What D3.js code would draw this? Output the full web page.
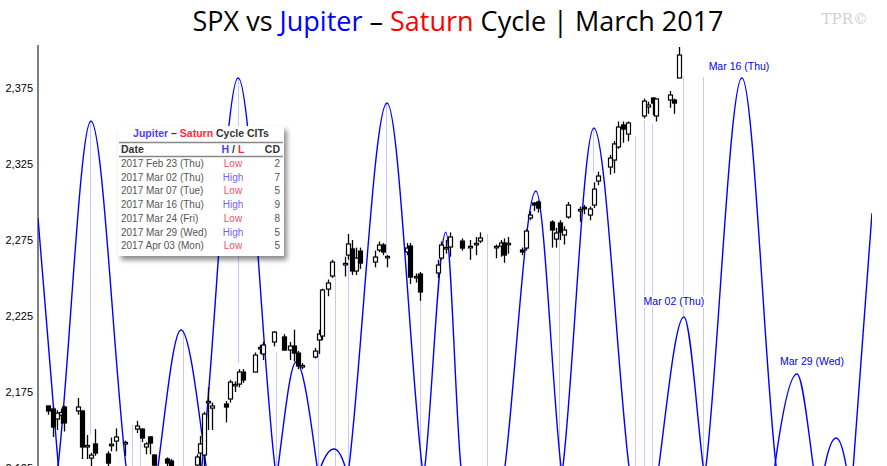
<!DOCTYPE html>
<html><head><meta charset="utf-8">
<script src="https://cdn.jsdelivr.net/npm/d3@7"></script>
<style>body{margin:0;background:#fff}svg{display:block}</style></head>
<body><svg id="c" width="887" height="466"></svg>
<script>
// Candles: [slot, open, high, low, close]
const candles = [
[2.4,2165.8,2166,2160,2162.5],[3.6,2163.8,2165,2145.4,2151.9],[4.6,2157.2,2163,2150,2161.1],[5.5,2159.8,2164,2154,2161.5],[6.2,2165.1,2166,2149,2154.6],
[9.6,2162.5,2171,2160,2165.1],[10.6,2162.5,2163,2130.9,2138.8],[11.8,2139.4,2146.7,2130.9,2139.8],[12.7,2131.5,2135,2126,2133.5],[13.7,2140.8,2150.6,2133,2134.8],
[16.8,2134.2,2136,2124,2128.2],[17.5,2140.1,2145,2136,2140.6],[18.7,2142.7,2151,2136,2145.4],[20.9,2141.4,2143,2133,2141.8],[23.7,2150.6,2156,2148,2152.6],
[24.9,2150.6,2151,2142,2144.7],[25.9,2138.8,2142,2134,2140.8],[26.9,2145.4,2146,2134,2141.4],[27.8,2133.5,2134,2124,2126.9],[30.9,2130.9,2132,2124,2128.2],
[31.9,2129.6,2131,2124,2126.3],[38.1,2126.9,2134,2124,2132.2],[38.8,2134.8,2146,2126,2140.8],[39.8,2133.5,2162,2124,2160.5],[40.8,2168.4,2178,2150,2168.8],
[41.7,2164.4,2168,2150,2165.8],[45.1,2167.1,2169,2155,2165.1],[46,2170.4,2183,2168,2181.5],[47.2,2179.6,2182,2175,2180],[48.2,2180.2,2190,2178,2188.1],
[49.2,2188.1,2190,2181,2182.9],[52,2188.1,2201,2188,2199.3],[53.2,2203.9,2206,2200,2204.3],[54,2200,2208,2196,2205.9],[56.6,2207.9,2215,2205,2214.4],
[59,2211.2,2213,2202,2202.6],[60.4,2202.6,2208,2196,2205.2],[61.4,2205.2,2216,2195,2200.6],[62.4,2200.6,2202,2190,2192.1],[63.3,2192.1,2194,2190,2192.4],
[66.4,2198,2204,2197,2201.9],[67.4,2209.2,2216,2200,2213.1],[68.1,2211.8,2243,2209,2242.1],[69.5,2242.7,2249,2238,2246.7],[70.5,2251.3,2262,2250,2260.5],
[73.6,2259.2,2264,2251,2259.6],[74.3,2265.1,2279,2262,2272.4],[75.3,2269.1,2275,2252,2254.6],[76.3,2254.6,2270,2252,2263.1],[77.2,2267.7,2270,2256,2259.8],
[80.8,2260.5,2268,2257,2263.8],[81.8,2268.4,2274,2267,2271.7],[82.7,2271.7,2273,2265,2267.1],[83.7,2263.8,2265,2257,2264.2],[88.5,2267.1,2273,2265,2269.7],
[89.2,2271,2273,2246,2250.6],[90.6,2250.6,2253,2247,2251],[91.6,2252.6,2254,2235,2240.8],[95.9,2253.3,2262,2250,2258.5],[96.6,2263.1,2274,2262,2271.7],
[97.8,2269.7,2275,2266,2270.1],[98.8,2270.4,2280,2264,2277],[101.7,2274.3,2276,2268,2269.7],[103.6,2270.4,2275,2262,2270.8],[105,2272.4,2277,2265,2272.8],
[106,2274.3,2280,2273,2276.3],[109.8,2270.4,2272,2263,2270.8],[111,2271,2275,2264,2273],[111.8,2273,2276,2260,2265.1],[112.7,2272.4,2277,2266,2272.8],
[116.1,2268.4,2270,2265,2267.1],[117,2269.7,2282,2268,2280.9],[118,2289.5,2294,2288,2291.4],[118.9,2299.3,2300,2294,2298],[119.9,2300,2301,2293,2296],
[123.3,2286.8,2288,2270,2281.6],[124.2,2275.6,2283,2270,2279.6],[125.2,2286.2,2288,2275,2280.2],[126.1,2278.3,2284,2272,2281.6],[127.1,2290.1,2300,2289,2298],
[130,2294.7,2297,2287,2295.1],[130.9,2296.5,2298,2292,2295.5],[132.4,2291.4,2297,2288,2295.4],[133.3,2298,2313,2296,2308.5],[134.3,2313.8,2320,2311,2317.1],
[137.2,2323,2331,2318,2328.9],[138.1,2327.6,2340,2319,2338.2],[139.1,2336.2,2353,2335,2349.3],[140.3,2350.7,2353,2339,2348],[141.5,2344.7,2353,2340,2352],
[145.3,2356.6,2368,2355,2366.4],[146.3,2362.5,2366,2358,2363.8],[147.5,2368.4,2369,2357,2365.1],[148.2,2356.6,2368,2353,2367.8],[151.6,2367.1,2373,2362,2370.4],
[152.5,2367.1,2368,2358,2365.1],[153.7,2381.6,2402,2381.6,2396.7]
];
// Cycle arches: [leftBaseSlot, peakSlot, peakPrice, rightBaseSlot]
const arches = [
[4.8,12.7,2353.3,21.1],[28.8,34.3,2215.8,40.3],[39.3,48,2381.6,56.8],[57.6,61.9,2194.7,66.9],
[67.9,71,2137.5,73.6],[74.6,83.7,2365.1,92.1],[92.8,97.8,2280.2,101.4],[112,119.4,2307.2,125.4],
[125.9,133.3,2348.7,141.7],[148.9,154.9,2224.3,159.5],[160.2,168.8,2381.6,177],[176.7,182,2186.8,185.9],
[188.7,191.4,2144.7,193.8]
];
const edgeLeft = [[0,2289.5],[5,2122]];
const edgeRight = [[195.4,2122],[200,2292.8]];
// Light marker lines: [slot, topPrice, bottomPrice]
const markers = [
[12.4,2353.3,2146.5],[22.5,2153.3,2120],[24.5,2152,2120],[34.8,2215.8,2120],[48,2381.6,2194],
[57.1,2201.3,2120],[67.1,2202.6,2120],[71.2,2252,2120],[74.3,2275,2120],[83.5,2365.1,2265.1],
[91.6,2242.1,2120],[107.7,2279,2120],[124.9,2282.9,2120],[133.1,2348.7,2319.7],[143.2,2343.4,2120],
[145.3,2354,2120],[147.2,2351.3,2120],[154.7,2382.2,2224.3],[159.5,2382.2,2120]
];
const peakLabels = [["Mar 16 (Thu)",168.1,2387],["Mar 02 (Thu)",152.5,2232],["Mar 29 (Wed)",185.6,2193]];
const yTicks = [2125,2175,2225,2275,2325,2375];
const tblDates = ["2017 Feb 23 (Thu)","2017 Mar 02 (Thu)","2017 Mar 07 (Tue)","2017 Mar 16 (Thu)","2017 Mar 24 (Fri)","2017 Mar 29 (Wed)","2017 Apr 03 (Mon)"];
const tblHL = ["Low","High","Low","High","Low","High","Low"];
const tblCD = [2,7,5,9,8,5,5];

const svg = d3.select("#c");
const x = d3.scaleLinear().domain([0,200]).range([38,872]);
const y = d3.scaleLinear().domain([2126.3,2403.3]).range([466,45]);
const defs = svg.append("defs");
defs.append("clipPath").attr("id","clip").append("rect").attr("x",38).attr("y",40).attr("width",834).attr("height",426);
const f = defs.append("filter").attr("id","sh").attr("x","-10%").attr("y","-10%").attr("width","130%").attr("height","130%");
f.append("feDropShadow").attr("dx",3).attr("dy",4).attr("stdDeviation",2.5).attr("flood-color","#000").attr("flood-opacity",0.45);

const F = "'Liberation Sans', Arial, sans-serif";
const t = svg.append("text").attr("x",458).attr("y",31).attr("text-anchor","middle")
  .attr("font-family","'Open Sans', sans-serif").attr("font-size",27).attr("fill","#000");
t.append("tspan").text("SPX vs ");
t.append("tspan").attr("fill","#0000ff").text("Jupiter");
t.append("tspan").text(" – ");
t.append("tspan").attr("fill","#ff0000").text("Saturn");
t.append("tspan").text(" Cycle | March 2017");
svg.append("text").attr("x",868).attr("y",24).attr("text-anchor","end").attr("font-family","'DejaVu Serif',serif")
  .attr("font-size",15).attr("fill","#d0d0d0").text("TPR©");

const ax = svg.append("g").attr("transform","translate(38,0)")
  .call(d3.axisLeft(y).tickValues(yTicks).tickFormat(d3.format(",")).tickSize(0).tickPadding(5));
ax.select(".domain").attr("stroke","#000").attr("d","M0,45V466");
ax.selectAll("text").attr("font-family",F).attr("font-size",11).attr("fill","#000");

const g = svg.append("g").attr("clip-path","url(#clip)");
g.selectAll(".mk").data(markers).join("line")
  .attr("x1",d=>Math.round(x(d[0]))+0.5).attr("x2",d=>Math.round(x(d[0]))+0.5)
  .attr("y1",d=>y(d[1])).attr("y2",d=>y(d[2])).attr("stroke","#c8c8ff").attr("stroke-width",1);

const line = d3.line().x(d=>x(d[0])).y(d=>y(d[1])).curve(d3.curveMonotoneX);
const cusp = 2100;
arches.forEach(a=>{
  g.append("path").attr("d",line([[a[0]-1.2,cusp],[a[0],2126.3],[a[1],a[2]],[a[3],2126.3],[a[3]+1.2,cusp]]))
   .attr("fill","none").attr("stroke","#0000ff").attr("stroke-width",1.4);
});
[edgeLeft,edgeRight].forEach(e=>g.append("path").attr("d",d3.line().x(d=>x(d[0])).y(d=>y(d[1])).curve(d3.curveLinear)(e))
   .attr("fill","none").attr("stroke","#0000ff").attr("stroke-width",1.4));

const cg = g.selectAll(".cd").data(candles).join("g");
cg.append("line").attr("x1",d=>Math.round(x(d[0]))+0.5).attr("x2",d=>Math.round(x(d[0]))+0.5)
  .attr("y1",d=>y(d[2])).attr("y2",d=>y(d[3])).attr("stroke","#000").attr("stroke-width",1.3);
cg.append("rect").attr("x",d=>Math.round(x(d[0]))-1.5).attr("width",4)
  .attr("y",d=>y(Math.max(d[1],d[4]))).attr("height",d=>Math.max(1.5,Math.abs(y(d[1])-y(d[4]))))
  .attr("fill",d=>d[4]>=d[1]?"#fff":"#000").attr("stroke","#000").attr("stroke-width",1.2);

peakLabels.forEach(p=>{
  const lg = svg.append("g");
  const bg = lg.append("rect").attr("fill","#fff");
  const tx = lg.append("text").attr("x",x(p[1])).attr("y",y(p[2])).attr("text-anchor","middle")
    .attr("font-family",F).attr("font-size",10.5).attr("fill","#0000ff").text(p[0]);
  const b = tx.node().getBBox();
  bg.attr("x",b.x-1).attr("y",b.y).attr("width",b.width+2).attr("height",b.height);
});

const tb = svg.append("g");
tb.append("rect").attr("x",118).attr("y",126).attr("width",166).attr("height",130).attr("fill","#fff").attr("filter","url(#sh)");
const tt = tb.append("text").attr("x",201).attr("y",137).attr("text-anchor","middle").attr("font-family",F).attr("font-size",10.5).attr("font-weight","bold").attr("fill","#333");
tt.append("tspan").attr("fill","#4b3cff").text("Jupiter");
tt.append("tspan").text(" – ");
tt.append("tspan").attr("fill","#ff2a3a").text("Saturn");
tt.append("tspan").text(" Cycle CITs");
tb.append("line").attr("x1",119).attr("x2",283).attr("y1",142.5).attr("y2",142.5).attr("stroke","#888").attr("stroke-width",1.3);
tb.append("line").attr("x1",119).attr("x2",283).attr("y1",156.5).attr("y2",156.5).attr("stroke","#888").attr("stroke-width",1.3);
const hd = {"font-family":F,"font-size":10.5,"font-weight":"bold","fill":"#333"};
const h1 = tb.append("text").attr("x",121).attr("y",153).text("Date"); Object.entries(hd).forEach(([k,v])=>h1.attr(k,v));
const h2 = tb.append("text").attr("x",233).attr("y",153).attr("text-anchor","middle"); Object.entries(hd).forEach(([k,v])=>h2.attr(k,v));
h2.append("tspan").attr("fill","#4b3cff").text("H");h2.append("tspan").text(" / ");h2.append("tspan").attr("fill","#ff2a3a").text("L");
const h3 = tb.append("text").attr("x",280).attr("y",153).attr("text-anchor","end").text("CD"); Object.entries(hd).forEach(([k,v])=>h3.attr(k,v));
tblDates.forEach((d,i)=>{
  const yy = 167+i*13.7;
  tb.append("text").attr("x",121).attr("y",yy).attr("font-family",F).attr("font-size",10).attr("fill","#555").text(d);
  tb.append("text").attr("x",233).attr("y",yy).attr("text-anchor","middle").attr("font-family",F).attr("font-size",10)
    .attr("fill",tblHL[i]==="Low"?"#ff4a6a":"#7a5cff").text(tblHL[i]);
  tb.append("text").attr("x",280).attr("y",yy).attr("text-anchor","end").attr("font-family",F).attr("font-size",10).attr("fill","#555").text(tblCD[i]);
});
</script></body></html>
